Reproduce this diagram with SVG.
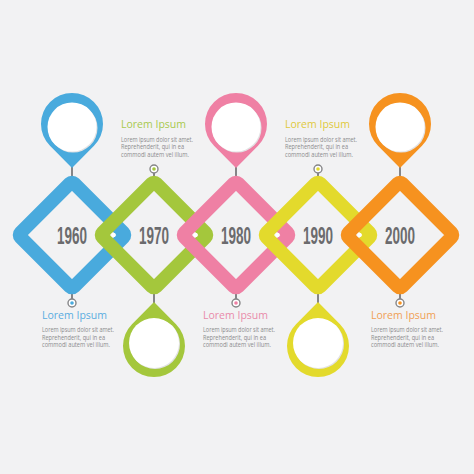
<svg xmlns="http://www.w3.org/2000/svg" xmlns:xlink="http://www.w3.org/1999/xlink" width="474" height="474" viewBox="0 0 474 474">
<style>
.dia{fill:none;stroke-width:13.5}
.year{font-family:"Liberation Sans",Arial,sans-serif;font-weight:bold;font-size:23.5px;fill:#6b6b6d;text-anchor:middle}
.head{font-family:"Open Sans","Liberation Sans",sans-serif;font-size:10.5px}
.body{font-family:"Open Sans","Liberation Sans",sans-serif;font-size:6.2px;fill:#8b8b8d}
.stem{stroke:#858587;stroke-width:2}
.ring{fill:#ffffff;stroke:#858587;stroke-width:1.4}
.hole{fill:#ffffff}
.shade{fill:#e2e2e4}
</style>
<defs>
<rect id="sq" x="-38" y="-38" width="76" height="76" rx="3"/>
<path id="drop" d="M0,44 L22,21.84 A31,31 0 1 0 -22,21.84 Z"/>
<clipPath id="c1"><rect x="90" y="238" width="46" height="45"/></clipPath>
<clipPath id="c2"><rect x="172" y="238" width="46" height="45"/></clipPath>
<clipPath id="c3"><rect x="254" y="238" width="46" height="45"/></clipPath>
<clipPath id="c4"><rect x="336" y="238" width="46" height="45"/></clipPath>
</defs>
<rect width="474" height="474" fill="#f2f2f3"/>

<g id="connectors">
<line class="stem" x1="72" y1="166" x2="72" y2="178"/>
<line class="stem" x1="72" y1="292" x2="72" y2="299"/>
<line class="stem" x1="154" y1="173" x2="154" y2="178"/>
<line class="stem" x1="154" y1="292" x2="154" y2="304"/>
<line class="stem" x1="236" y1="166" x2="236" y2="178"/>
<line class="stem" x1="236" y1="292" x2="236" y2="299"/>
<line class="stem" x1="318" y1="173" x2="318" y2="178"/>
<line class="stem" x1="318" y1="292" x2="318" y2="304"/>
<line class="stem" x1="400" y1="166" x2="400" y2="178"/>
<line class="stem" x1="400" y1="292" x2="400" y2="299"/>
</g>

<g id="node-1960">
<use xlink:href="#drop" transform="translate(72,124)" fill="#49aadd"/>
<circle class="shade" cx="73" cy="128" r="24.5"/>
<circle class="hole" cx="72" cy="127" r="24.5"/>
<use xlink:href="#sq" class="dia" stroke="#49aadd" transform="translate(72,235) rotate(45)"/>
<circle class="ring" cx="72" cy="303" r="4"/>
<circle cx="72" cy="303" r="1.8" fill="#49aadd"/>
<text class="year" x="72" y="244" textLength="30" lengthAdjust="spacingAndGlyphs">1960</text>
<text class="head" x="42" y="318.5" fill="#5aade0" textLength="65" lengthAdjust="spacingAndGlyphs">Lorem Ipsum</text>
<text class="body" x="42" y="332" textLength="72" lengthAdjust="spacingAndGlyphs">Lorem ipsum dolor sit amet.</text>
<text class="body" x="42" y="339.5" textLength="63" lengthAdjust="spacingAndGlyphs">Reprehenderit, qui in ea</text>
<text class="body" x="42" y="347" textLength="68" lengthAdjust="spacingAndGlyphs">commodi autem vel illum.</text>
</g>

<g id="node-1970">
<use xlink:href="#drop" transform="translate(154,346) rotate(180)" fill="#a4c73c"/>
<circle class="shade" cx="155" cy="344" r="25"/>
<circle class="hole" cx="154" cy="343" r="25"/>
<use xlink:href="#sq" class="dia" stroke="#a4c73c" transform="translate(154,235) rotate(45)"/>
<circle class="ring" cx="154" cy="169" r="4"/>
<circle cx="154" cy="169" r="1.8" fill="#a4c73c"/>
<text class="year" x="154" y="244" textLength="30" lengthAdjust="spacingAndGlyphs">1970</text>
<text class="head" x="121" y="127.5" fill="#a8c94e" textLength="65" lengthAdjust="spacingAndGlyphs">Lorem Ipsum</text>
<text class="body" x="121" y="141.5" textLength="72" lengthAdjust="spacingAndGlyphs">Lorem ipsum dolor sit amet.</text>
<text class="body" x="121" y="149" textLength="63" lengthAdjust="spacingAndGlyphs">Reprehenderit, qui in ea</text>
<text class="body" x="121" y="156.5" textLength="68" lengthAdjust="spacingAndGlyphs">commodi autem vel illum.</text>
</g>
<use xlink:href="#sq" class="dia" stroke="#49aadd" transform="translate(72,235) rotate(45)" clip-path="url(#c1)"/>

<g id="node-1980">
<use xlink:href="#drop" transform="translate(236,124)" fill="#ef80a4"/>
<circle class="shade" cx="237" cy="128" r="24.5"/>
<circle class="hole" cx="236" cy="127" r="24.5"/>
<use xlink:href="#sq" class="dia" stroke="#ef80a4" transform="translate(236,235) rotate(45)"/>
<circle class="ring" cx="236" cy="303" r="4"/>
<circle cx="236" cy="303" r="1.8" fill="#ef80a4"/>
<text class="year" x="236" y="244" textLength="30" lengthAdjust="spacingAndGlyphs">1980</text>
<text class="head" x="203" y="318.5" fill="#e98aaa" textLength="65" lengthAdjust="spacingAndGlyphs">Lorem Ipsum</text>
<text class="body" x="203" y="332" textLength="72" lengthAdjust="spacingAndGlyphs">Lorem ipsum dolor sit amet.</text>
<text class="body" x="203" y="339.5" textLength="63" lengthAdjust="spacingAndGlyphs">Reprehenderit, qui in ea</text>
<text class="body" x="203" y="347" textLength="68" lengthAdjust="spacingAndGlyphs">commodi autem vel illum.</text>
</g>
<use xlink:href="#sq" class="dia" stroke="#a4c73c" transform="translate(154,235) rotate(45)" clip-path="url(#c2)"/>

<g id="node-1990">
<use xlink:href="#drop" transform="translate(318,346) rotate(180)" fill="#e3da2c"/>
<circle class="shade" cx="319" cy="344" r="25"/>
<circle class="hole" cx="318" cy="343" r="25"/>
<use xlink:href="#sq" class="dia" stroke="#e3da2c" transform="translate(318,235) rotate(45)"/>
<circle class="ring" cx="318" cy="169" r="4"/>
<circle cx="318" cy="169" r="1.8" fill="#e3da2c"/>
<text class="year" x="318" y="244" textLength="30" lengthAdjust="spacingAndGlyphs">1990</text>
<text class="head" x="285" y="127.5" fill="#e0c93c" textLength="65" lengthAdjust="spacingAndGlyphs">Lorem Ipsum</text>
<text class="body" x="285" y="141.5" textLength="72" lengthAdjust="spacingAndGlyphs">Lorem ipsum dolor sit amet.</text>
<text class="body" x="285" y="149" textLength="63" lengthAdjust="spacingAndGlyphs">Reprehenderit, qui in ea</text>
<text class="body" x="285" y="156.5" textLength="68" lengthAdjust="spacingAndGlyphs">commodi autem vel illum.</text>
</g>
<use xlink:href="#sq" class="dia" stroke="#ef80a4" transform="translate(236,235) rotate(45)" clip-path="url(#c3)"/>

<g id="node-2000">
<use xlink:href="#drop" transform="translate(400,124)" fill="#f6921f"/>
<circle class="shade" cx="401" cy="128" r="24.5"/>
<circle class="hole" cx="400" cy="127" r="24.5"/>
<use xlink:href="#sq" class="dia" stroke="#f6921f" transform="translate(400,235) rotate(45)"/>
<circle class="ring" cx="400" cy="303" r="4"/>
<circle cx="400" cy="303" r="1.8" fill="#f6921f"/>
<text class="year" x="400" y="244" textLength="30" lengthAdjust="spacingAndGlyphs">2000</text>
<text class="head" x="371" y="318.5" fill="#f0a055" textLength="65" lengthAdjust="spacingAndGlyphs">Lorem Ipsum</text>
<text class="body" x="371" y="332" textLength="72" lengthAdjust="spacingAndGlyphs">Lorem ipsum dolor sit amet.</text>
<text class="body" x="371" y="339.5" textLength="63" lengthAdjust="spacingAndGlyphs">Reprehenderit, qui in ea</text>
<text class="body" x="371" y="347" textLength="68" lengthAdjust="spacingAndGlyphs">commodi autem vel illum.</text>
</g>
<use xlink:href="#sq" class="dia" stroke="#e3da2c" transform="translate(318,235) rotate(45)" clip-path="url(#c4)"/>

<g id="overlap-dots" fill="#ffffff">
<circle cx="113.5" cy="235" r="2.3"/>
<circle cx="195.5" cy="235" r="2.3"/>
<circle cx="277.5" cy="235" r="2.3"/>
<circle cx="359.5" cy="235" r="2.3"/>
</g>
</svg>
